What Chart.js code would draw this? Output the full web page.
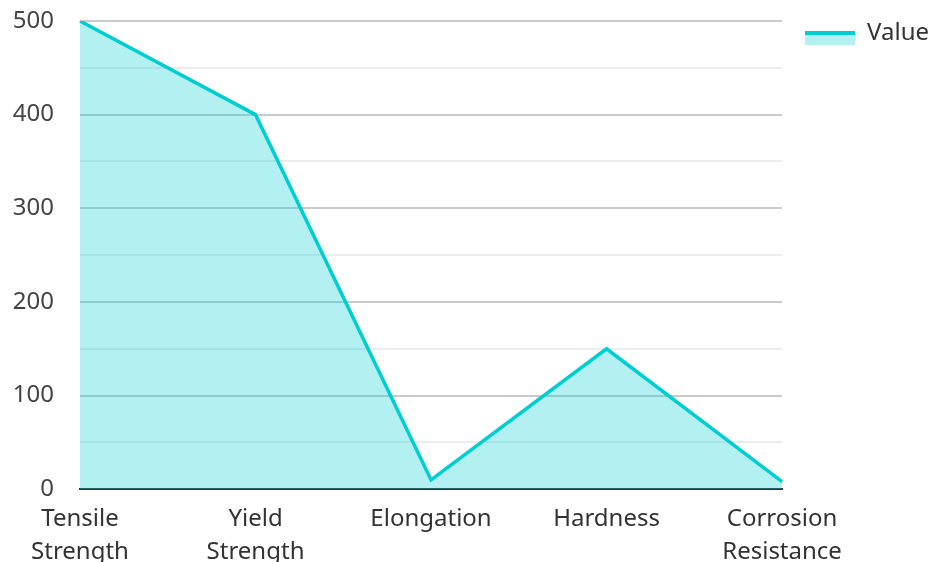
<!DOCTYPE html>
<html>
<head>
<meta charset="utf-8">
<script src="https://cdn.jsdelivr.net/npm/chart.js@4"></script>
<style>
  html, body { margin: 0; padding: 0; background: #fff; overflow: hidden; }
  #wrap { position: relative; width: 931px; height: 574px; }
</style>
</head>
<body>
<div id="wrap"><canvas id="chart"></canvas></div>
<script>
const categories = [['Tensile', 'Strength'], ['Yield', 'Strength'], 'Elongation', 'Hardness', ['Corrosion', 'Resistance']];
const values = [500, 400, 10, 150, 8];
const seriesName = 'Value';
const yTicks = { min: 0, max: 500, step: 50, labelEvery: 100 };

const lineColor = '#00ced1';
const fillColor = 'rgba(0, 206, 209, 0.3)';

// legend swatch: thick line on top, fill underneath (sits a bit below the text centre)
function legendSwatch() {
  const c = document.createElement('canvas');
  c.width = 50; c.height = 24;
  const ctx = c.getContext('2d');
  ctx.fillStyle = fillColor;
  ctx.fillRect(0, 13, 50, 11);
  ctx.fillStyle = lineColor;
  ctx.fillRect(0, 10, 50, 4);
  return c;
}

// nudge the legend after layout so the plot area keeps its size
const legendNudge = {
  id: 'legendNudge',
  afterLayout(chart) {
    const lg = chart.legend;
    if (lg) {
      lg.left += 13; lg.right += 13;
      lg.top -= 10; lg.bottom -= 10;
    }
  }
};

Chart.defaults.font.family = '"Noto Sans", sans-serif';

new Chart(document.getElementById('chart'), {
  type: 'line',
  data: {
    labels: categories,
    datasets: [{
      label: seriesName,
      data: values,
      borderColor: lineColor,
      backgroundColor: fillColor,
      borderWidth: 3.5,
      fill: 'origin',
      tension: 0,
      pointRadius: 0,
      pointStyle: legendSwatch()
    }]
  },
  plugins: [legendNudge],
  options: {
    responsive: true,
    maintainAspectRatio: false,
    animation: false,
    layout: { padding: { left: 0, top: 21, right: 5 } },
    plugins: {
      tooltip: { enabled: false },
      legend: {
        position: 'right',
        align: 'start',
        labels: {
          usePointStyle: true,
          pointStyleWidth: 50,
          color: '#333',
          font: { size: 24 },
          padding: 10
        }
      }
    },
    scales: {
      x: {
        offset: false,
        grid: { display: false },
        border: { display: true, color: '#333', width: 2 },
        ticks: {
          color: '#333',
          font: { size: 24, lineHeight: 1.35 },
          maxRotation: 0,
          autoSkip: false,
          padding: 6
        }
      },
      y: {
        min: yTicks.min,
        max: yTicks.max,
        border: { display: false },
        afterFit: s => { s.width = 80; s.paddingTop = 0; },
        grid: {
          drawTicks: false,
          lineWidth: 2,
          color: ctx => (ctx.tick && ctx.tick.value % yTicks.labelEvery === 0) ? '#cacaca' : '#ececec'
        },
        ticks: {
          stepSize: yTicks.step,
          color: '#444',
          font: { size: 24 },
          padding: 26,
          callback: v => (v % yTicks.labelEvery === 0 ? v : '')
        }
      }
    }
  }
});
</script>
</body>
</html>
